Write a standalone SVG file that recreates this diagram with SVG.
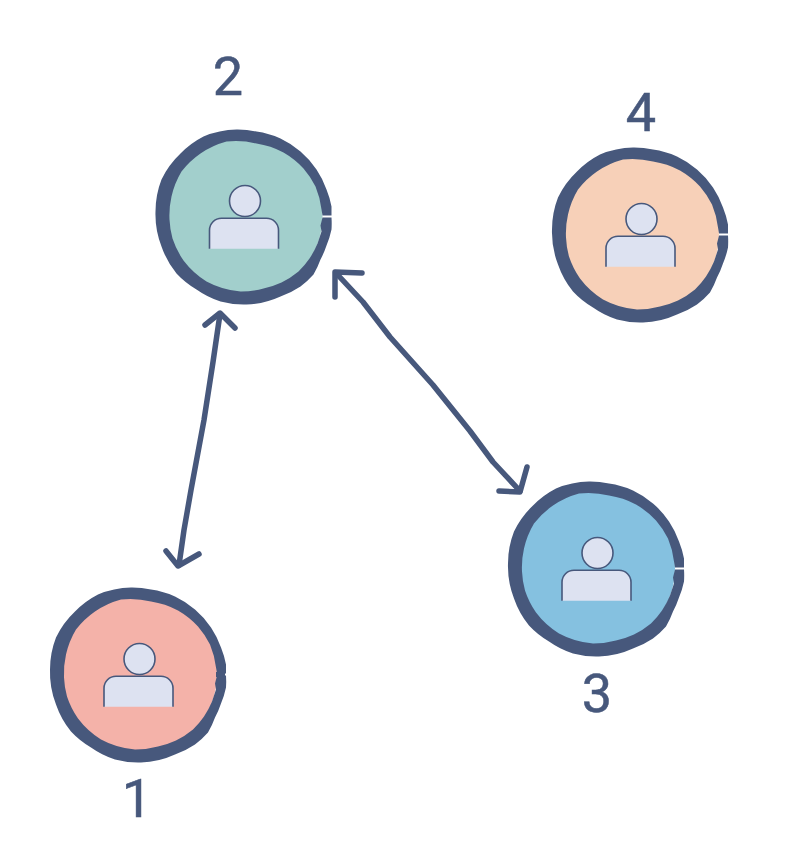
<svg xmlns="http://www.w3.org/2000/svg" xmlns:xlink="http://www.w3.org/1999/xlink" width="790" height="844" viewBox="0 0 790 844">
<style>
.ring{fill:#47587c}
.lbl{font-family:Roboto,"Liberation Sans",Arial,sans-serif;font-size:54px;fill:#47587c;stroke:#47587c;stroke-width:.5px;text-anchor:middle}
.conn{fill:none;stroke:#47587c;stroke-width:5.500;stroke-linecap:round;stroke-linejoin:round}
.p{fill:#dde2f1}
.pl{fill:none;stroke:#47587c;stroke-width:1.600}
</style>
<defs>
<g id="badge">
<circle cx="1" cy="0" r="78"/>
<path class="ring" d="M88 1A88 88 0 0 1 88 13A88 88 0 0 1 83 29A88 88 0 0 1 77 43A88 88 0 0 1 70 58A88 88 0 0 1 57 70A88 88 0 0 1 37 80A88 88 0 0 1 3 88A88 88 0 0 1-23 85A88 88 0 0 1-47 73A88 88 0 0 1-67 57A88 88 0 0 1-82 30A88 88 0 0 1-88-5A88 88 0 0 1-82-37A88 88 0 0 1-63-63A88 88 0 0 1-40-80A88 88 0 0 1-7-87A88 88 0 0 1 13-85A88 88 0 0 1 37-78A88 88 0 0 1 57-65A88 88 0 0 1 73-47A88 88 0 0 1 83-27A88 88 0 0 1 88-10L88-1 79-1 78-7A85 85 0 0 0 72-30A85 85 0 0 0 60-48A85 85 0 0 0 40-64A85 85 0 0 0 13-73A85 85 0 0 0-17-75A85 85 0 0 0-43-63A85 85 0 0 0-62-45A85 85 0 0 0-72-20A85 85 0 0 0-74 3A85 85 0 0 0-71 22A85 85 0 0 0-60 44A85 85 0 0 0-37 65A85 85 0 0 0-3 75A85 85 0 0 0 20 72A85 85 0 0 0 38 66A85 85 0 0 0 55 55A85 85 0 0 0 66 42A85 85 0 0 0 74 27L78 15 77 9 79 1Z"/>
<path class="p" d="M-34 32.300V13.700A12 12 0 0 1-22 1.700H23A12 12 0 0 1 35 13.700V32.300Z"/>
<path class="pl" d="M-34 32.300V13.700A12 12 0 0 1-22 1.700H23A12 12 0 0 1 35 13.700V32.300"/>
<circle class="p" cx="1.500" cy="-15.500" r="15.500"/>
<circle class="pl" cx="1.500" cy="-15.500" r="15.500"/>
</g>
</defs>
<g id="connectors">
<g id="conn-1-2" class="conn">
<path d="M220 314L213 362 204 420 191 490 184 530 179 565"/>
<path d="M205 325L220 313 235 328"/>
<path d="M166 551L178 566 199 554"/>
</g>
<g id="conn-2-3" class="conn">
<path d="M336 273L363 302 390 337 433 385 470 431 493 462 520 491"/>
<path d="M362 273L335 272 335 297"/>
<path d="M499 491L520 492 527 467"/>
</g>
</g>
<g id="node-1" fill="#f4b2a9"><use href="#badge" xlink:href="#badge" transform="translate(138 674.500)"/><rect class="ring" x="216" y="672" width="9" height="5"/><text class="lbl" x="137" y="817">1</text></g>
<g id="node-2" fill="#a2cfcc"><use href="#badge" xlink:href="#badge" transform="translate(243.500 216.500)"/><text class="lbl" x="228" y="95">2</text></g>
<g id="node-3" fill="#85c1e0"><use href="#badge" xlink:href="#badge" transform="translate(596 568.500)"/><text class="lbl" x="597" y="712">3</text></g>
<g id="node-4" fill="#f7d0b8"><use href="#badge" xlink:href="#badge" transform="translate(640 234.500)"/><text class="lbl" x="641" y="131">4</text></g>
</svg>
